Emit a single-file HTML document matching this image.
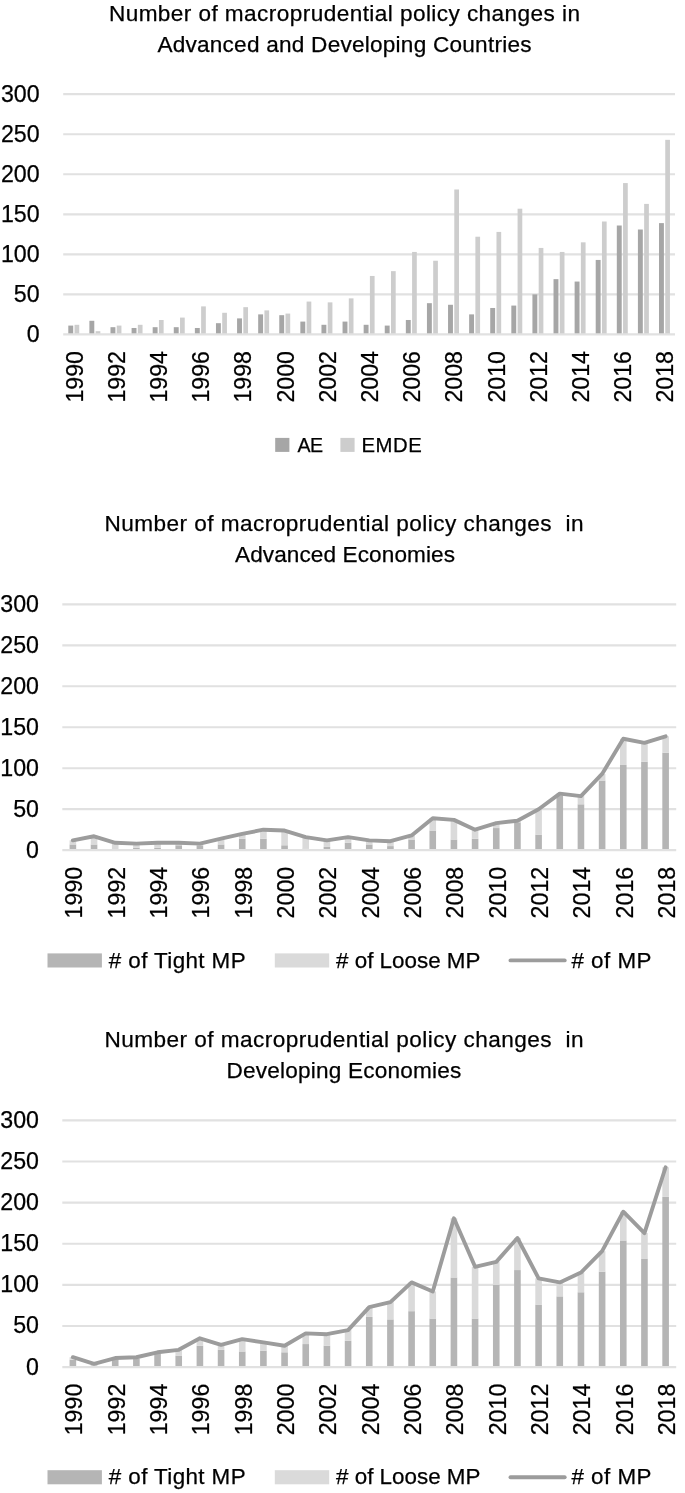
<!DOCTYPE html>
<html lang="en"><head><meta charset="utf-8"><title>Number of macroprudential policy changes</title>
<style>
html,body{margin:0;padding:0;background:#fff}
svg{display:block}
text{font-family:"Liberation Sans",sans-serif;fill:#000;stroke:#000;stroke-width:0.25px}
</style></head>
<body>
<svg width="685" height="1493" viewBox="0 0 685 1493">
<rect width="685" height="1493" fill="#fff"/>
<text x="108.9" y="20.8" font-size="22.6" text-anchor="start" textLength="471.1" lengthAdjust="spacing">Number of macroprudential policy changes in</text>
<text x="157.4" y="51.8" font-size="22.6" text-anchor="start" textLength="374.1" lengthAdjust="spacing">Advanced and Developing Countries</text>
<line x1="63.2" x2="675" y1="94.2" y2="94.2" stroke="#e1e1e1" stroke-width="2.2"/>
<text x="39.6" y="101.67" font-size="23.2" text-anchor="end">300</text>
<line x1="63.2" x2="675" y1="134.23" y2="134.23" stroke="#e1e1e1" stroke-width="2.2"/>
<text x="39.6" y="141.7" font-size="23.2" text-anchor="end">250</text>
<line x1="63.2" x2="675" y1="174.27" y2="174.27" stroke="#e1e1e1" stroke-width="2.2"/>
<text x="39.6" y="181.74" font-size="23.2" text-anchor="end">200</text>
<line x1="63.2" x2="675" y1="214.3" y2="214.3" stroke="#e1e1e1" stroke-width="2.2"/>
<text x="39.6" y="221.77" font-size="23.2" text-anchor="end">150</text>
<line x1="63.2" x2="675" y1="254.33" y2="254.33" stroke="#e1e1e1" stroke-width="2.2"/>
<text x="39.6" y="261.8" font-size="23.2" text-anchor="end">100</text>
<line x1="63.2" x2="675" y1="294.37" y2="294.37" stroke="#e1e1e1" stroke-width="2.2"/>
<text x="39.6" y="301.84" font-size="23.2" text-anchor="end">50</text>
<text x="39.6" y="341.87" font-size="23.2" text-anchor="end">0</text>
<rect x="68.3" y="325.59" width="4.9" height="8.81" fill="#a6a6a6"/>
<rect x="74.55" y="324.79" width="4.7" height="9.61" fill="#cdcdcd"/>
<rect x="89.39" y="320.79" width="4.9" height="13.61" fill="#a6a6a6"/>
<rect x="95.64" y="331.2" width="4.7" height="3.2" fill="#cdcdcd"/>
<rect x="110.49" y="327.19" width="4.9" height="7.21" fill="#a6a6a6"/>
<rect x="116.74" y="325.59" width="4.7" height="8.81" fill="#cdcdcd"/>
<rect x="131.59" y="327.99" width="4.9" height="6.41" fill="#a6a6a6"/>
<rect x="137.84" y="324.79" width="4.7" height="9.61" fill="#cdcdcd"/>
<rect x="152.68" y="327.19" width="4.9" height="7.21" fill="#a6a6a6"/>
<rect x="158.93" y="319.99" width="4.7" height="14.41" fill="#cdcdcd"/>
<rect x="173.78" y="327.19" width="4.9" height="7.21" fill="#a6a6a6"/>
<rect x="180.03" y="317.59" width="4.7" height="16.81" fill="#cdcdcd"/>
<rect x="194.88" y="327.99" width="4.9" height="6.41" fill="#a6a6a6"/>
<rect x="201.13" y="306.38" width="4.7" height="28.02" fill="#cdcdcd"/>
<rect x="215.97" y="323.19" width="4.9" height="11.21" fill="#a6a6a6"/>
<rect x="222.22" y="312.78" width="4.7" height="21.62" fill="#cdcdcd"/>
<rect x="237.07" y="318.39" width="4.9" height="16.01" fill="#a6a6a6"/>
<rect x="243.32" y="307.18" width="4.7" height="27.22" fill="#cdcdcd"/>
<rect x="258.17" y="314.38" width="4.9" height="20.02" fill="#a6a6a6"/>
<rect x="264.42" y="310.38" width="4.7" height="24.02" fill="#cdcdcd"/>
<rect x="279.26" y="315.18" width="4.9" height="19.22" fill="#a6a6a6"/>
<rect x="285.51" y="313.58" width="4.7" height="20.82" fill="#cdcdcd"/>
<rect x="300.36" y="321.59" width="4.9" height="12.81" fill="#a6a6a6"/>
<rect x="306.61" y="301.57" width="4.7" height="32.83" fill="#cdcdcd"/>
<rect x="321.46" y="324.79" width="4.9" height="9.61" fill="#a6a6a6"/>
<rect x="327.71" y="302.37" width="4.7" height="32.03" fill="#cdcdcd"/>
<rect x="342.55" y="321.59" width="4.9" height="12.81" fill="#a6a6a6"/>
<rect x="348.8" y="298.37" width="4.7" height="36.03" fill="#cdcdcd"/>
<rect x="363.65" y="324.79" width="4.9" height="9.61" fill="#a6a6a6"/>
<rect x="369.9" y="275.95" width="4.7" height="58.45" fill="#cdcdcd"/>
<rect x="384.75" y="325.59" width="4.9" height="8.81" fill="#a6a6a6"/>
<rect x="391" y="271.15" width="4.7" height="63.25" fill="#cdcdcd"/>
<rect x="405.84" y="319.99" width="4.9" height="14.41" fill="#a6a6a6"/>
<rect x="412.09" y="251.93" width="4.7" height="82.47" fill="#cdcdcd"/>
<rect x="426.94" y="303.17" width="4.9" height="31.23" fill="#a6a6a6"/>
<rect x="433.19" y="260.74" width="4.7" height="73.66" fill="#cdcdcd"/>
<rect x="448.04" y="304.78" width="4.9" height="29.62" fill="#a6a6a6"/>
<rect x="454.29" y="189.48" width="4.7" height="144.92" fill="#cdcdcd"/>
<rect x="469.13" y="314.38" width="4.9" height="20.02" fill="#a6a6a6"/>
<rect x="475.38" y="236.72" width="4.7" height="97.68" fill="#cdcdcd"/>
<rect x="490.23" y="307.98" width="4.9" height="26.42" fill="#a6a6a6"/>
<rect x="496.48" y="231.91" width="4.7" height="102.49" fill="#cdcdcd"/>
<rect x="511.33" y="305.58" width="4.9" height="28.82" fill="#a6a6a6"/>
<rect x="517.58" y="208.7" width="4.7" height="125.7" fill="#cdcdcd"/>
<rect x="532.42" y="294.37" width="4.9" height="40.03" fill="#a6a6a6"/>
<rect x="538.67" y="247.93" width="4.7" height="86.47" fill="#cdcdcd"/>
<rect x="553.52" y="279.15" width="4.9" height="55.25" fill="#a6a6a6"/>
<rect x="559.77" y="251.93" width="4.7" height="82.47" fill="#cdcdcd"/>
<rect x="574.62" y="281.56" width="4.9" height="52.84" fill="#a6a6a6"/>
<rect x="580.87" y="242.32" width="4.7" height="92.08" fill="#cdcdcd"/>
<rect x="595.71" y="259.94" width="4.9" height="74.46" fill="#a6a6a6"/>
<rect x="601.96" y="221.51" width="4.7" height="112.89" fill="#cdcdcd"/>
<rect x="616.81" y="225.51" width="4.9" height="108.89" fill="#a6a6a6"/>
<rect x="623.06" y="183.07" width="4.7" height="151.33" fill="#cdcdcd"/>
<rect x="637.91" y="229.51" width="4.9" height="104.89" fill="#a6a6a6"/>
<rect x="644.16" y="203.89" width="4.7" height="130.51" fill="#cdcdcd"/>
<rect x="659" y="223.11" width="4.9" height="111.29" fill="#a6a6a6"/>
<rect x="665.25" y="139.84" width="4.7" height="194.56" fill="#cdcdcd"/>
<line x1="63.2" x2="675" y1="334.4" y2="334.4" stroke="#e1e1e1" stroke-width="2.2"/>
<text transform="translate(82.65 351) rotate(-90)" font-size="23.2" text-anchor="end">1990</text>
<text transform="translate(124.85 351) rotate(-90)" font-size="23.2" text-anchor="end">1992</text>
<text transform="translate(167.04 351) rotate(-90)" font-size="23.2" text-anchor="end">1994</text>
<text transform="translate(209.23 351) rotate(-90)" font-size="23.2" text-anchor="end">1996</text>
<text transform="translate(251.43 351) rotate(-90)" font-size="23.2" text-anchor="end">1998</text>
<text transform="translate(293.62 351) rotate(-90)" font-size="23.2" text-anchor="end">2000</text>
<text transform="translate(335.81 351) rotate(-90)" font-size="23.2" text-anchor="end">2002</text>
<text transform="translate(378.01 351) rotate(-90)" font-size="23.2" text-anchor="end">2004</text>
<text transform="translate(420.2 351) rotate(-90)" font-size="23.2" text-anchor="end">2006</text>
<text transform="translate(462.39 351) rotate(-90)" font-size="23.2" text-anchor="end">2008</text>
<text transform="translate(504.58 351) rotate(-90)" font-size="23.2" text-anchor="end">2010</text>
<text transform="translate(546.78 351) rotate(-90)" font-size="23.2" text-anchor="end">2012</text>
<text transform="translate(588.97 351) rotate(-90)" font-size="23.2" text-anchor="end">2014</text>
<text transform="translate(631.16 351) rotate(-90)" font-size="23.2" text-anchor="end">2016</text>
<text transform="translate(673.36 351) rotate(-90)" font-size="23.2" text-anchor="end">2018</text>
<rect x="275.2" y="437.9" width="14.2" height="14" fill="#a6a6a6"/>
<text x="297.4" y="451.8" font-size="19.6" text-anchor="start" textLength="25.6" lengthAdjust="spacing">AE</text>
<rect x="340.4" y="437.9" width="14.2" height="14" fill="#cdcdcd"/>
<text x="361.5" y="451.8" font-size="20.3" text-anchor="start" textLength="60.4" lengthAdjust="spacing">EMDE</text>
<text x="104.5" y="531" font-size="22.6" text-anchor="start" textLength="479.1" lengthAdjust="spacing">Number of macroprudential policy changes&#160; in</text>
<text x="235" y="561.9" font-size="22.6" text-anchor="start" textLength="220" lengthAdjust="spacing">Advanced Economies</text>
<line x1="62.3" x2="676.2" y1="604.3" y2="604.3" stroke="#e1e1e1" stroke-width="2.2"/>
<text x="39" y="611.77" font-size="23.2" text-anchor="end">300</text>
<line x1="62.3" x2="676.2" y1="645.28" y2="645.28" stroke="#e1e1e1" stroke-width="2.2"/>
<text x="39" y="652.75" font-size="23.2" text-anchor="end">250</text>
<line x1="62.3" x2="676.2" y1="686.27" y2="686.27" stroke="#e1e1e1" stroke-width="2.2"/>
<text x="39" y="693.74" font-size="23.2" text-anchor="end">200</text>
<line x1="62.3" x2="676.2" y1="727.25" y2="727.25" stroke="#e1e1e1" stroke-width="2.2"/>
<text x="39" y="734.72" font-size="23.2" text-anchor="end">150</text>
<line x1="62.3" x2="676.2" y1="768.23" y2="768.23" stroke="#e1e1e1" stroke-width="2.2"/>
<text x="39" y="775.7" font-size="23.2" text-anchor="end">100</text>
<line x1="62.3" x2="676.2" y1="809.22" y2="809.22" stroke="#e1e1e1" stroke-width="2.2"/>
<text x="39" y="816.69" font-size="23.2" text-anchor="end">50</text>
<text x="39" y="857.67" font-size="23.2" text-anchor="end">0</text>
<rect x="69.58" y="844.46" width="6.6" height="5.74" fill="#b5b5b5"/>
<rect x="69.58" y="840.36" width="6.6" height="4.1" fill="#dadada"/>
<rect x="90.75" y="844.46" width="6.6" height="5.74" fill="#b5b5b5"/>
<rect x="90.75" y="836.27" width="6.6" height="8.2" fill="#dadada"/>
<rect x="111.92" y="849.38" width="6.6" height="0.82" fill="#b5b5b5"/>
<rect x="111.92" y="842.82" width="6.6" height="6.56" fill="#dadada"/>
<rect x="133.09" y="847.74" width="6.6" height="2.46" fill="#b5b5b5"/>
<rect x="133.09" y="843.64" width="6.6" height="4.1" fill="#dadada"/>
<rect x="154.26" y="847.74" width="6.6" height="2.46" fill="#b5b5b5"/>
<rect x="154.26" y="842.82" width="6.6" height="4.92" fill="#dadada"/>
<rect x="175.43" y="845.28" width="6.6" height="4.92" fill="#b5b5b5"/>
<rect x="175.43" y="842.82" width="6.6" height="2.46" fill="#dadada"/>
<rect x="196.6" y="845.28" width="6.6" height="4.92" fill="#b5b5b5"/>
<rect x="196.6" y="843.64" width="6.6" height="1.64" fill="#dadada"/>
<rect x="217.77" y="844.46" width="6.6" height="5.74" fill="#b5b5b5"/>
<rect x="217.77" y="838.72" width="6.6" height="5.74" fill="#dadada"/>
<rect x="238.94" y="838.72" width="6.6" height="11.48" fill="#b5b5b5"/>
<rect x="238.94" y="833.81" width="6.6" height="4.92" fill="#dadada"/>
<rect x="260.11" y="838.72" width="6.6" height="11.48" fill="#b5b5b5"/>
<rect x="260.11" y="829.71" width="6.6" height="9.02" fill="#dadada"/>
<rect x="281.27" y="845.28" width="6.6" height="4.92" fill="#b5b5b5"/>
<rect x="281.27" y="830.53" width="6.6" height="14.75" fill="#dadada"/>
<rect x="302.44" y="848.56" width="6.6" height="1.64" fill="#b5b5b5"/>
<rect x="302.44" y="837.09" width="6.6" height="11.48" fill="#dadada"/>
<rect x="323.61" y="846.92" width="6.6" height="3.28" fill="#b5b5b5"/>
<rect x="323.61" y="840.36" width="6.6" height="6.56" fill="#dadada"/>
<rect x="344.78" y="842.82" width="6.6" height="7.38" fill="#b5b5b5"/>
<rect x="344.78" y="837.09" width="6.6" height="5.74" fill="#dadada"/>
<rect x="365.95" y="844.46" width="6.6" height="5.74" fill="#b5b5b5"/>
<rect x="365.95" y="840.36" width="6.6" height="4.1" fill="#dadada"/>
<rect x="387.12" y="846.1" width="6.6" height="4.1" fill="#b5b5b5"/>
<rect x="387.12" y="841.18" width="6.6" height="4.92" fill="#dadada"/>
<rect x="408.29" y="839.54" width="6.6" height="10.66" fill="#b5b5b5"/>
<rect x="408.29" y="835.45" width="6.6" height="4.1" fill="#dadada"/>
<rect x="429.46" y="830.53" width="6.6" height="19.67" fill="#b5b5b5"/>
<rect x="429.46" y="818.23" width="6.6" height="12.3" fill="#dadada"/>
<rect x="450.63" y="839.54" width="6.6" height="10.66" fill="#b5b5b5"/>
<rect x="450.63" y="819.87" width="6.6" height="19.67" fill="#dadada"/>
<rect x="471.79" y="838.72" width="6.6" height="11.48" fill="#b5b5b5"/>
<rect x="471.79" y="829.71" width="6.6" height="9.02" fill="#dadada"/>
<rect x="492.96" y="828.07" width="6.6" height="22.13" fill="#b5b5b5"/>
<rect x="492.96" y="823.15" width="6.6" height="4.92" fill="#dadada"/>
<rect x="514.13" y="822.33" width="6.6" height="27.87" fill="#b5b5b5"/>
<rect x="514.13" y="820.69" width="6.6" height="1.64" fill="#dadada"/>
<rect x="535.3" y="834.63" width="6.6" height="15.57" fill="#b5b5b5"/>
<rect x="535.3" y="809.22" width="6.6" height="25.41" fill="#dadada"/>
<rect x="556.47" y="795.28" width="6.6" height="54.92" fill="#b5b5b5"/>
<rect x="556.47" y="793.64" width="6.6" height="1.64" fill="#dadada"/>
<rect x="577.64" y="804.3" width="6.6" height="45.9" fill="#b5b5b5"/>
<rect x="577.64" y="796.1" width="6.6" height="8.2" fill="#dadada"/>
<rect x="598.81" y="780.53" width="6.6" height="69.67" fill="#b5b5b5"/>
<rect x="598.81" y="773.97" width="6.6" height="6.56" fill="#dadada"/>
<rect x="619.98" y="764.95" width="6.6" height="85.25" fill="#b5b5b5"/>
<rect x="619.98" y="738.73" width="6.6" height="26.23" fill="#dadada"/>
<rect x="641.15" y="761.68" width="6.6" height="88.52" fill="#b5b5b5"/>
<rect x="641.15" y="742.82" width="6.6" height="18.85" fill="#dadada"/>
<rect x="662.32" y="752.66" width="6.6" height="97.54" fill="#b5b5b5"/>
<rect x="662.32" y="736.27" width="6.6" height="16.39" fill="#dadada"/>
<line x1="62.3" x2="676.2" y1="850.2" y2="850.2" stroke="#e1e1e1" stroke-width="2.2"/>
<polyline points="72.88,840.36 94.05,836.27 115.22,842.82 136.39,843.64 157.56,842.82 178.73,842.82 199.9,843.64 221.07,838.72 242.24,833.81 263.41,829.71 284.57,830.53 305.74,837.09 326.91,840.36 348.08,837.09 369.25,840.36 390.42,841.18 411.59,835.45 432.76,818.23 453.93,819.87 475.09,829.71 496.26,823.15 517.43,820.69 538.6,809.22 559.77,793.64 580.94,796.1 602.11,773.97 623.28,738.73 644.45,742.82 665.62,736.27" fill="none" stroke="#9c9c9c" stroke-width="3.9" stroke-linejoin="round" stroke-linecap="round"/>
<text transform="translate(82.19 866.8) rotate(-90)" font-size="23.2" text-anchor="end">1990</text>
<text transform="translate(124.53 866.8) rotate(-90)" font-size="23.2" text-anchor="end">1992</text>
<text transform="translate(166.87 866.8) rotate(-90)" font-size="23.2" text-anchor="end">1994</text>
<text transform="translate(209.2 866.8) rotate(-90)" font-size="23.2" text-anchor="end">1996</text>
<text transform="translate(251.54 866.8) rotate(-90)" font-size="23.2" text-anchor="end">1998</text>
<text transform="translate(293.88 866.8) rotate(-90)" font-size="23.2" text-anchor="end">2000</text>
<text transform="translate(336.22 866.8) rotate(-90)" font-size="23.2" text-anchor="end">2002</text>
<text transform="translate(378.56 866.8) rotate(-90)" font-size="23.2" text-anchor="end">2004</text>
<text transform="translate(420.89 866.8) rotate(-90)" font-size="23.2" text-anchor="end">2006</text>
<text transform="translate(463.23 866.8) rotate(-90)" font-size="23.2" text-anchor="end">2008</text>
<text transform="translate(505.57 866.8) rotate(-90)" font-size="23.2" text-anchor="end">2010</text>
<text transform="translate(547.91 866.8) rotate(-90)" font-size="23.2" text-anchor="end">2012</text>
<text transform="translate(590.25 866.8) rotate(-90)" font-size="23.2" text-anchor="end">2014</text>
<text transform="translate(632.58 866.8) rotate(-90)" font-size="23.2" text-anchor="end">2016</text>
<text transform="translate(674.92 866.8) rotate(-90)" font-size="23.2" text-anchor="end">2018</text>
<rect x="47.5" y="953.4" width="54.4" height="14.1" fill="#b5b5b5"/>
<text x="108.8" y="967.5" font-size="22.4" text-anchor="start" textLength="136.8" lengthAdjust="spacing"># of Tight MP</text>
<rect x="274.8" y="953.4" width="54.4" height="14.1" fill="#dadada"/>
<text x="336" y="967.5" font-size="22.4" text-anchor="start" textLength="144.4" lengthAdjust="spacing"># of Loose MP</text>
<line x1="510.5" x2="564.7" y1="960.4" y2="960.4" stroke="#9c9c9c" stroke-width="3.9" stroke-linecap="round"/>
<text x="571.5" y="967.5" font-size="22.4" text-anchor="start" textLength="80" lengthAdjust="spacing"># of MP</text>
<text x="104.5" y="1047.2" font-size="22.6" text-anchor="start" textLength="479.1" lengthAdjust="spacing">Number of macroprudential policy changes&#160; in</text>
<text x="226.6" y="1078.1" font-size="22.6" text-anchor="start" textLength="234.6" lengthAdjust="spacing">Developing Economies</text>
<line x1="62.3" x2="676.2" y1="1120.4" y2="1120.4" stroke="#e1e1e1" stroke-width="2.2"/>
<text x="39" y="1127.87" font-size="23.2" text-anchor="end">300</text>
<line x1="62.3" x2="676.2" y1="1161.52" y2="1161.52" stroke="#e1e1e1" stroke-width="2.2"/>
<text x="39" y="1168.99" font-size="23.2" text-anchor="end">250</text>
<line x1="62.3" x2="676.2" y1="1202.63" y2="1202.63" stroke="#e1e1e1" stroke-width="2.2"/>
<text x="39" y="1210.1" font-size="23.2" text-anchor="end">200</text>
<line x1="62.3" x2="676.2" y1="1243.75" y2="1243.75" stroke="#e1e1e1" stroke-width="2.2"/>
<text x="39" y="1251.22" font-size="23.2" text-anchor="end">150</text>
<line x1="62.3" x2="676.2" y1="1284.87" y2="1284.87" stroke="#e1e1e1" stroke-width="2.2"/>
<text x="39" y="1292.34" font-size="23.2" text-anchor="end">100</text>
<line x1="62.3" x2="676.2" y1="1325.98" y2="1325.98" stroke="#e1e1e1" stroke-width="2.2"/>
<text x="39" y="1333.45" font-size="23.2" text-anchor="end">50</text>
<text x="39" y="1374.57" font-size="23.2" text-anchor="end">0</text>
<rect x="69.58" y="1359.7" width="6.6" height="7.4" fill="#b5b5b5"/>
<rect x="69.58" y="1357.23" width="6.6" height="2.47" fill="#dadada"/>
<rect x="90.75" y="1365.46" width="6.6" height="1.64" fill="#b5b5b5"/>
<rect x="90.75" y="1363.81" width="6.6" height="1.64" fill="#dadada"/>
<rect x="111.92" y="1359.7" width="6.6" height="7.4" fill="#b5b5b5"/>
<rect x="111.92" y="1358.05" width="6.6" height="1.64" fill="#dadada"/>
<rect x="133.09" y="1358.88" width="6.6" height="8.22" fill="#b5b5b5"/>
<rect x="133.09" y="1357.23" width="6.6" height="1.64" fill="#dadada"/>
<rect x="154.26" y="1353.94" width="6.6" height="13.16" fill="#b5b5b5"/>
<rect x="154.26" y="1352.3" width="6.6" height="1.64" fill="#dadada"/>
<rect x="175.43" y="1355.59" width="6.6" height="11.51" fill="#b5b5b5"/>
<rect x="175.43" y="1349.83" width="6.6" height="5.76" fill="#dadada"/>
<rect x="196.6" y="1345.72" width="6.6" height="21.38" fill="#b5b5b5"/>
<rect x="196.6" y="1338.32" width="6.6" height="7.4" fill="#dadada"/>
<rect x="217.77" y="1349.83" width="6.6" height="17.27" fill="#b5b5b5"/>
<rect x="217.77" y="1344.9" width="6.6" height="4.93" fill="#dadada"/>
<rect x="238.94" y="1351.48" width="6.6" height="15.62" fill="#b5b5b5"/>
<rect x="238.94" y="1339.14" width="6.6" height="12.33" fill="#dadada"/>
<rect x="260.11" y="1350.65" width="6.6" height="16.45" fill="#b5b5b5"/>
<rect x="260.11" y="1342.43" width="6.6" height="8.22" fill="#dadada"/>
<rect x="281.27" y="1352.3" width="6.6" height="14.8" fill="#b5b5b5"/>
<rect x="281.27" y="1345.72" width="6.6" height="6.58" fill="#dadada"/>
<rect x="302.44" y="1344.07" width="6.6" height="23.03" fill="#b5b5b5"/>
<rect x="302.44" y="1333.38" width="6.6" height="10.69" fill="#dadada"/>
<rect x="323.61" y="1345.72" width="6.6" height="21.38" fill="#b5b5b5"/>
<rect x="323.61" y="1334.21" width="6.6" height="11.51" fill="#dadada"/>
<rect x="344.78" y="1340.79" width="6.6" height="26.31" fill="#b5b5b5"/>
<rect x="344.78" y="1330.1" width="6.6" height="10.69" fill="#dadada"/>
<rect x="365.95" y="1316.94" width="6.6" height="50.16" fill="#b5b5b5"/>
<rect x="365.95" y="1307.07" width="6.6" height="9.87" fill="#dadada"/>
<rect x="387.12" y="1319.4" width="6.6" height="47.7" fill="#b5b5b5"/>
<rect x="387.12" y="1302.14" width="6.6" height="17.27" fill="#dadada"/>
<rect x="408.29" y="1311.18" width="6.6" height="55.92" fill="#b5b5b5"/>
<rect x="408.29" y="1282.4" width="6.6" height="28.78" fill="#dadada"/>
<rect x="429.46" y="1318.58" width="6.6" height="48.52" fill="#b5b5b5"/>
<rect x="429.46" y="1291.45" width="6.6" height="27.14" fill="#dadada"/>
<rect x="450.63" y="1277.47" width="6.6" height="89.63" fill="#b5b5b5"/>
<rect x="450.63" y="1218.26" width="6.6" height="59.21" fill="#dadada"/>
<rect x="471.79" y="1318.58" width="6.6" height="48.52" fill="#b5b5b5"/>
<rect x="471.79" y="1266.78" width="6.6" height="51.81" fill="#dadada"/>
<rect x="492.96" y="1284.87" width="6.6" height="82.23" fill="#b5b5b5"/>
<rect x="492.96" y="1261.84" width="6.6" height="23.03" fill="#dadada"/>
<rect x="514.13" y="1270.06" width="6.6" height="97.04" fill="#b5b5b5"/>
<rect x="514.13" y="1237.99" width="6.6" height="32.07" fill="#dadada"/>
<rect x="535.3" y="1304.6" width="6.6" height="62.5" fill="#b5b5b5"/>
<rect x="535.3" y="1278.29" width="6.6" height="26.31" fill="#dadada"/>
<rect x="556.47" y="1296.38" width="6.6" height="70.72" fill="#b5b5b5"/>
<rect x="556.47" y="1282.4" width="6.6" height="13.98" fill="#dadada"/>
<rect x="577.64" y="1292.27" width="6.6" height="74.83" fill="#b5b5b5"/>
<rect x="577.64" y="1272.53" width="6.6" height="19.74" fill="#dadada"/>
<rect x="598.81" y="1271.71" width="6.6" height="95.39" fill="#b5b5b5"/>
<rect x="598.81" y="1251.15" width="6.6" height="20.56" fill="#dadada"/>
<rect x="619.98" y="1240.46" width="6.6" height="126.64" fill="#b5b5b5"/>
<rect x="619.98" y="1211.68" width="6.6" height="28.78" fill="#dadada"/>
<rect x="641.15" y="1258.55" width="6.6" height="108.55" fill="#b5b5b5"/>
<rect x="641.15" y="1233.06" width="6.6" height="25.49" fill="#dadada"/>
<rect x="662.32" y="1196.88" width="6.6" height="170.22" fill="#b5b5b5"/>
<rect x="662.32" y="1167.27" width="6.6" height="29.6" fill="#dadada"/>
<line x1="62.3" x2="676.2" y1="1367.1" y2="1367.1" stroke="#e1e1e1" stroke-width="2.2"/>
<polyline points="72.88,1357.23 94.05,1363.81 115.22,1358.05 136.39,1357.23 157.56,1352.3 178.73,1349.83 199.9,1338.32 221.07,1344.9 242.24,1339.14 263.41,1342.43 284.57,1345.72 305.74,1333.38 326.91,1334.21 348.08,1330.1 369.25,1307.07 390.42,1302.14 411.59,1282.4 432.76,1291.45 453.93,1218.26 475.09,1266.78 496.26,1261.84 517.43,1237.99 538.6,1278.29 559.77,1282.4 580.94,1272.53 602.11,1251.15 623.28,1211.68 644.45,1233.06 665.62,1167.27" fill="none" stroke="#9c9c9c" stroke-width="3.9" stroke-linejoin="round" stroke-linecap="round"/>
<text transform="translate(82.19 1383.7) rotate(-90)" font-size="23.2" text-anchor="end">1990</text>
<text transform="translate(124.53 1383.7) rotate(-90)" font-size="23.2" text-anchor="end">1992</text>
<text transform="translate(166.87 1383.7) rotate(-90)" font-size="23.2" text-anchor="end">1994</text>
<text transform="translate(209.2 1383.7) rotate(-90)" font-size="23.2" text-anchor="end">1996</text>
<text transform="translate(251.54 1383.7) rotate(-90)" font-size="23.2" text-anchor="end">1998</text>
<text transform="translate(293.88 1383.7) rotate(-90)" font-size="23.2" text-anchor="end">2000</text>
<text transform="translate(336.22 1383.7) rotate(-90)" font-size="23.2" text-anchor="end">2002</text>
<text transform="translate(378.56 1383.7) rotate(-90)" font-size="23.2" text-anchor="end">2004</text>
<text transform="translate(420.89 1383.7) rotate(-90)" font-size="23.2" text-anchor="end">2006</text>
<text transform="translate(463.23 1383.7) rotate(-90)" font-size="23.2" text-anchor="end">2008</text>
<text transform="translate(505.57 1383.7) rotate(-90)" font-size="23.2" text-anchor="end">2010</text>
<text transform="translate(547.91 1383.7) rotate(-90)" font-size="23.2" text-anchor="end">2012</text>
<text transform="translate(590.25 1383.7) rotate(-90)" font-size="23.2" text-anchor="end">2014</text>
<text transform="translate(632.58 1383.7) rotate(-90)" font-size="23.2" text-anchor="end">2016</text>
<text transform="translate(674.92 1383.7) rotate(-90)" font-size="23.2" text-anchor="end">2018</text>
<rect x="47.5" y="1470.2" width="54.4" height="14.1" fill="#b5b5b5"/>
<text x="108.8" y="1484.3" font-size="22.4" text-anchor="start" textLength="136.8" lengthAdjust="spacing"># of Tight MP</text>
<rect x="274.8" y="1470.2" width="54.4" height="14.1" fill="#dadada"/>
<text x="336" y="1484.3" font-size="22.4" text-anchor="start" textLength="144.4" lengthAdjust="spacing"># of Loose MP</text>
<line x1="510.5" x2="564.7" y1="1477.2" y2="1477.2" stroke="#9c9c9c" stroke-width="3.9" stroke-linecap="round"/>
<text x="571.5" y="1484.3" font-size="22.4" text-anchor="start" textLength="80" lengthAdjust="spacing"># of MP</text>
</svg>
</body></html>
